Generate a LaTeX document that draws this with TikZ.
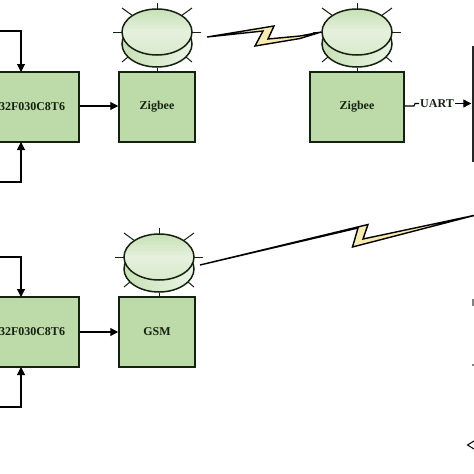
\documentclass[tikz,border=0pt]{standalone}
\usepackage{fontspec}
\setmainfont{Liberation Serif}
\usetikzlibrary{shapes.geometric,arrows.meta}
\definecolor{boxgreen}{HTML}{BDDBA9}
\definecolor{inkdark}{HTML}{14210F}
\definecolor{boltfill}{HTML}{F7EBB0}
\tikzset{
  x=1pt,y=-1pt,
  blockbox/.style={draw=inkdark,line width=1.5pt,fill=boxgreen,inner sep=0pt,font=\bfseries\fontsize{12}{12}\selectfont,text=inkdark},
  wire/.style={draw=black,line width=1.1pt},
  arrowwire/.style={wire,-{Triangle[length=8pt,width=8pt]}},
  discbase/.style={ellipse,draw=inkdark,line width=1.5pt,minimum width=70pt,minimum height=46pt,inner sep=0pt,left color=boxgreen!85!white,right color=boxgreen!30!white},
  disctop/.style={ellipse,draw=inkdark,line width=1.5pt,minimum width=70pt,minimum height=46pt,inner sep=0pt,top color=boxgreen!85!white,bottom color=boxgreen!60!white,middle color=boxgreen!40!white},
  ray/.style={draw=inkdark,line width=1pt},
  bolt/.style={draw=black,line width=1.4pt,fill=boltfill,line join=miter},
  labeltext/.style={inner sep=1pt,font=\bfseries\fontsize{12}{12}\selectfont,text=inkdark}
}
\newcommand{\antenna}[4]{% base name, top name, cx, cy
  \foreach \ax/\ay/\bx/\by in {0/-29/0/-23,-35/-24/-24/-16,35/-24/24/-16,-44/0/-35/0,44/0/35/0,-35/30/-29/25,35/30/29/25}
    \draw[ray] (#3+\ax,#4+\ay) -- (#3+\bx,#4+\by);
  \node[discbase] (#1) at (#3,#4+12) {};
  \node[disctop] (#2) at (#3,#4) {};
}
\begin{document}
\begin{tikzpicture}
\useasboundingbox (0,0) rectangle (474,474);
\clip (0,0) rectangle (474,474);
\fill[white] (0,0) rectangle (474,474);

% blocks
\node[blockbox,minimum width=94pt,minimum height=70pt] (mcu1) at (32,107) {32F030C8T6};
\node[blockbox,minimum width=76pt,minimum height=70pt] (zig1) at (157,107) {Zigbee};
\node[blockbox,minimum width=94pt,minimum height=70pt] (zig2) at (357,107) {Zigbee};
\node[blockbox,minimum width=94pt,minimum height=70pt] (mcu2) at (32,332) {32F030C8T6};
\node[blockbox,minimum width=76pt,minimum height=70pt] (gsm) at (157,332) {GSM};

% antennas
\antenna{base1}{top1}{157}{32}
\antenna{base2}{top2}{357}{32}
\antenna{base3}{top3}{159}{257}
\draw[ray] (base1.south) -- (zig1.north);
\draw[ray] (base2.south) -- (zig2.north);
\draw[ray] (base3.south) -- (base3.south |- gsm.north);

% side bar
\node[fill=black!85,minimum width=3pt,minimum height=116pt,inner sep=0pt] (bar) at (473,104) {};

% inputs to the first controller
\coordinate (in1a) at (-2,31);
\coordinate (in1b) at (-2,182);
\coordinate (in2a) at (-2,257);
\coordinate (in2b) at (-2,407);
\coordinate (t1) at (21,72);
\coordinate (b1) at (21,142);
\coordinate (t2) at (21,297);
\coordinate (b2) at (21,367);
\draw[arrowwire] (in1a) -| (t1);
\draw[arrowwire] (in1b) -| (b1);
\draw[arrowwire] (in2a) -| (t2);
\draw[arrowwire] (in2b) -| (b2);

\draw[arrowwire] (mcu1.east |- 0,106) -- (zig1.west |- 0,106);
\draw[arrowwire] (mcu2.east) -- (gsm.west);

% UART
\node[labeltext] (uart) at (437,103.5) {UART};
\draw[wire] (zig2.east |- 0,106) -- (414,106) -- (415,103.5) -- (uart.west);
\draw[arrowwire] (uart.east) -- (bar.west |- uart.east);

% lightning bolts
\coordinate (boltA) at (207,37);
\coordinate (boltB) at (top2.west);
\draw[bolt] (boltA) -- (274,26) -- (268,39) -- (300,36) -- (boltB) -- (300,38.5) -- (255,46) -- (263,31) -- cycle;
\coordinate (boltC) at (200,265);
\coordinate (boltD) at (476,215);
\draw[bolt] (boltC) -- (368,224.5) -- (363,239) -- (boltD) -- (352.5,247) -- (358,228) -- cycle;

% fragments at the right edge
\fill[black!50] (472,299) rectangle (474,306);
\fill[black!50] (472,364) rectangle (474,365.5);
\draw[black,line width=1pt] (474,441) -- (467.5,445) -- (474,449);
\end{tikzpicture}
\end{document}
